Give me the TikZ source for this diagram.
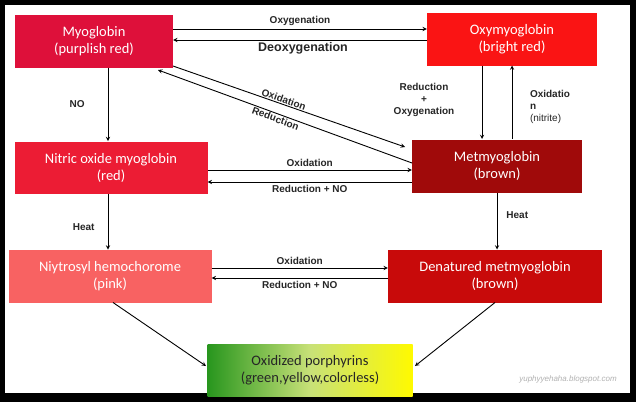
\documentclass[tikz,border=0pt]{standalone}
\usepackage{fontspec}
\setmainfont{Liberation Sans}
\newfontfamily\boxfont{Carlito}
\begin{document}
\begin{tikzpicture}[x=1pt,y=-1pt,
  box/.style={draw=none,text=white,align=center,font=\boxfont\fontsize{14.5}{17}\selectfont,inner sep=0pt},
  lab/.style={font=\fontsize{10}{12}\selectfont\bfseries,text=black!85,align=center,inner sep=1pt},
  arr/.style={->,>=stealth,line width=0.9pt}]
\fill[black] (0,0) rectangle (636,402);
\fill[white] (5,5) rectangle (630,393);
\useasboundingbox (0,0) rectangle (636,402);
% boxes
\node[box,fill={rgb,255:red,222;green,16;blue,58},minimum width=158pt,minimum height=53pt] (myo) at (94,41) {Myoglobin\\(purplish red)};
\node[box,fill={rgb,255:red,250;green,20;blue,20},minimum width=170pt,minimum height=53pt] (oxy) at (512,39) {Oxymyoglobin\\(bright red)};
\node[box,fill={rgb,255:red,236;green,28;blue,52},minimum width=193pt,minimum height=52pt] (nit) at (111,168) {Nitric oxide myoglobin\\(red)};
\node[box,fill={rgb,255:red,160;green,10;blue,10},minimum width=170pt,minimum height=53pt] (met) at (497,166) {Metmyoglobin\\(brown)};
\node[box,fill={rgb,255:red,248;green,98;blue,98},minimum width=203pt,minimum height=53pt] (niy) at (110,276) {Niytrosyl hemochorome\\(pink)};
\node[box,fill={rgb,255:red,200;green,10;blue,10},minimum width=214pt,minimum height=53pt] (den) at (495,276) {Denatured metmyoglobin\\(brown)};
\node[box,text=black!85,left color={rgb,255:red,40;green,150;blue,30},right color={rgb,255:red,255;green,250;blue,0},middle color={rgb,255:red,200;green,225;blue,120},minimum width=205pt,minimum height=52pt] (por) at (310,370) {Oxidized porphyrins\\(green,yellow,colorless)};
% arrows
\draw[arr] (myo.east|-0,29) -- node[lab,above=2pt]{Oxygenation} (oxy.west|-0,29);
\draw[arr] (oxy.west|-0,40) -- (myo.east|-0,40);
\node[lab,font=\fontsize{12.5}{14}\selectfont\bfseries] (deo) at (303,48) {Deoxygenation};
\draw[arr] (108,67.5) -- node[lab,left=22pt]{NO} (108,141);
\draw[arr] (482,65.5) -- (482,139);
\node[lab] (rox) at (424,100) {Reduction\\+\\Oxygenation};
\draw[arr] (512,139) -- (512,65.5);
\node[lab,align=left] (oxn) at (550,107) {Oxidatio\\n\\{\mdseries(nitrite)}};
\coordinate (u1) at (173,66);
\coordinate (u2) at (405,147);
\coordinate (l1) at (412,163);
\coordinate (l2) at (158,70);
\draw[arr] (u1) -- node[lab,sloped,above,pos=0.47]{Oxidation} (u2);
\draw[arr] (l1) -- node[lab,sloped,below,pos=0.53]{Reduction} (l2);
\draw[arr] (nit.east|-0,170) -- node[lab,above=2pt]{Oxidation} (met.west|-0,170);
\draw[arr] (met.west|-0,182) -- node[lab,below=2pt]{Reduction + NO} (nit.east|-0,182);
\draw[arr] (108,194) -- node[lab,left=12pt,pos=0.6]{Heat} (108,249.5);
\draw[arr] (497,192.5) -- node[lab,right=8pt,pos=0.4]{Heat} (497,249.5);
\draw[arr] (niy.east|-0,268) -- node[lab,above=2pt]{Oxidation} (den.west|-0,268);
\draw[arr] (den.west|-0,278) -- node[lab,below=2pt]{Reduction + NO} (niy.east|-0,278);
\draw[arr] (113,302.5) -- (206,366);
\draw[arr] (495,302.5) -- (415,366);
\node[text=black!30,font=\itshape\fontsize{8}{9}\selectfont] (wm) at (568,379) {yuphyyehaha.blogspot.com};
\end{tikzpicture}
\end{document}
